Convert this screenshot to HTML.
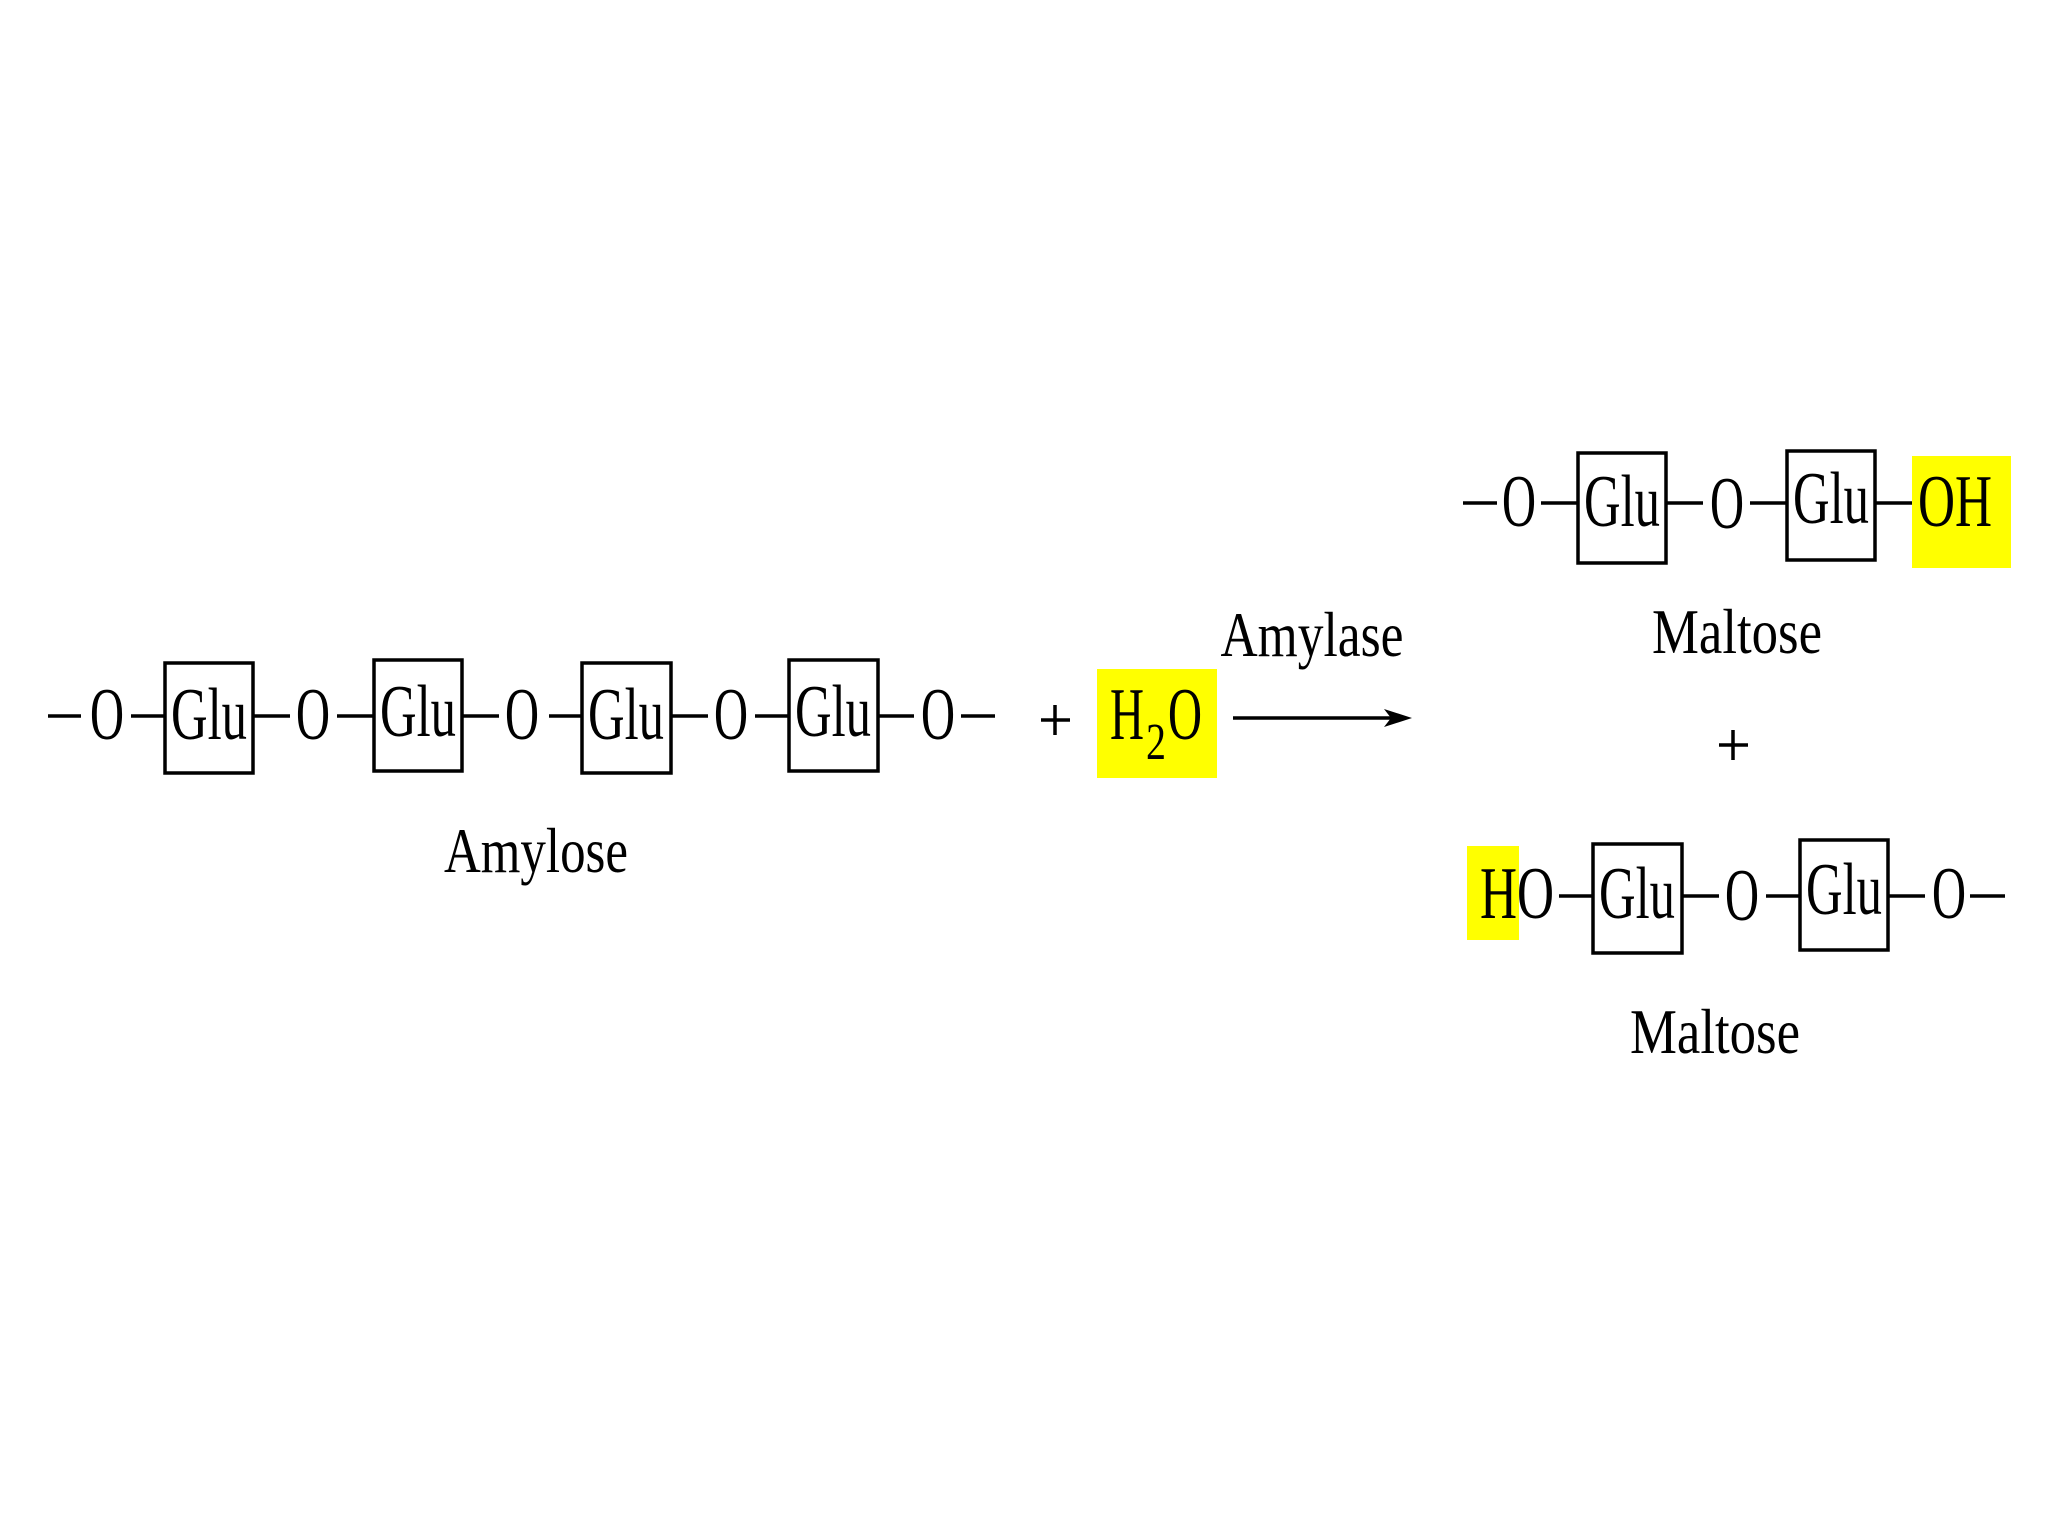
<!DOCTYPE html>
<html><head><meta charset="utf-8"><style>html,body{margin:0;padding:0;background:#fff}svg{display:block}</style></head><body>
<svg width="2048" height="1536" viewBox="0 0 2048 1536" xmlns="http://www.w3.org/2000/svg" font-family="Liberation Serif, serif" fill="#000">
<rect width="2048" height="1536" fill="#fff"/>
<g stroke="#000" stroke-width="3.5" fill="none">
<!-- amylose dashes -->
<line x1="48" y1="716" x2="81" y2="716"/>
<line x1="131" y1="716" x2="165" y2="716"/>
<line x1="253" y1="716" x2="290" y2="716"/>
<line x1="337" y1="716" x2="374" y2="716"/>
<line x1="462" y1="716" x2="499" y2="716"/>
<line x1="549" y1="716" x2="582" y2="716"/>
<line x1="671" y1="716" x2="708" y2="716"/>
<line x1="755" y1="716" x2="789" y2="716"/>
<line x1="878" y1="716" x2="914" y2="716"/>
<line x1="961" y1="716" x2="995" y2="716"/>
<rect x="165" y="663" width="88" height="110"/>
<rect x="374" y="660" width="88" height="111"/>
<rect x="582" y="663" width="89" height="110"/>
<rect x="789" y="660" width="89" height="111"/>
<line x1="1233" y1="718" x2="1400" y2="718"/>
<!-- top maltose -->
<line x1="1463" y1="503" x2="1497" y2="503"/>
<line x1="1541" y1="503" x2="1578" y2="503"/>
<line x1="1666" y1="503" x2="1703" y2="503"/>
<line x1="1750" y1="503" x2="1787" y2="503"/>
<line x1="1875" y1="503" x2="1912" y2="503"/>
<rect x="1578" y="453" width="88" height="110"/>
<rect x="1787" y="451" width="88" height="109"/>
<!-- bottom maltose -->
<line x1="1559" y1="896" x2="1593" y2="896"/>
<line x1="1682" y1="896" x2="1719" y2="896"/>
<line x1="1766" y1="896" x2="1800" y2="896"/>
<line x1="1888" y1="896" x2="1925" y2="896"/>
<line x1="1970" y1="896" x2="2005" y2="896"/>
<rect x="1593" y="844" width="89" height="109"/>
<rect x="1800" y="840" width="88" height="110"/>
<!-- plus signs -->
<line x1="1041" y1="720" x2="1070" y2="720"/><line x1="1055" y1="705" x2="1055" y2="735"/>
<line x1="1719" y1="745" x2="1748" y2="745"/><line x1="1733" y1="730" x2="1733" y2="760"/>
</g>
<polygon points="1384,709 1412,718 1384,727 1391,718" fill="#000"/>
<rect x="1097" y="669" width="120" height="109" fill="#ffff00"/>
<rect x="1912" y="456" width="99" height="112" fill="#ffff00"/>
<rect x="1467" y="846" width="52" height="94" fill="#ffff00"/>
<g font-size="74" text-anchor="middle">
<text x="107" y="739" textLength="34" lengthAdjust="spacingAndGlyphs">O</text>
<text x="209" y="739" textLength="76" lengthAdjust="spacingAndGlyphs">Glu</text>
<text x="313" y="739" textLength="34" lengthAdjust="spacingAndGlyphs">O</text>
<text x="418" y="736" textLength="76" lengthAdjust="spacingAndGlyphs">Glu</text>
<text x="522" y="739" textLength="34" lengthAdjust="spacingAndGlyphs">O</text>
<text x="626" y="739" textLength="76" lengthAdjust="spacingAndGlyphs">Glu</text>
<text x="731" y="739" textLength="34" lengthAdjust="spacingAndGlyphs">O</text>
<text x="833" y="736" textLength="76" lengthAdjust="spacingAndGlyphs">Glu</text>
<text x="938" y="739" textLength="34" lengthAdjust="spacingAndGlyphs">O</text>
<text x="1127" y="739" textLength="34" lengthAdjust="spacingAndGlyphs">H</text>
<text x="1185" y="739" textLength="34" lengthAdjust="spacingAndGlyphs">O</text>
<text x="1519" y="526" textLength="34" lengthAdjust="spacingAndGlyphs">O</text>
<text x="1622" y="526" textLength="76" lengthAdjust="spacingAndGlyphs">Glu</text>
<text x="1727" y="528" textLength="34" lengthAdjust="spacingAndGlyphs">O</text>
<text x="1831" y="523" textLength="76" lengthAdjust="spacingAndGlyphs">Glu</text>
<text x="1955" y="526" textLength="74" lengthAdjust="spacingAndGlyphs">OH</text>
<text x="1517" y="918" textLength="74" lengthAdjust="spacingAndGlyphs">HO</text>
<text x="1637" y="918" textLength="76" lengthAdjust="spacingAndGlyphs">Glu</text>
<text x="1742" y="920" textLength="34" lengthAdjust="spacingAndGlyphs">O</text>
<text x="1844" y="914" textLength="76" lengthAdjust="spacingAndGlyphs">Glu</text>
<text x="1949" y="918" textLength="34" lengthAdjust="spacingAndGlyphs">O</text>
</g>
<text x="1156" y="759" font-size="52" text-anchor="middle" textLength="20" lengthAdjust="spacingAndGlyphs">2</text>
<g font-size="64" text-anchor="middle">
<text x="1312" y="656" textLength="183" lengthAdjust="spacingAndGlyphs">Amylase</text>
<text x="536" y="872" textLength="184" lengthAdjust="spacingAndGlyphs">Amylose</text>
<text x="1737" y="653" textLength="170" lengthAdjust="spacingAndGlyphs">Maltose</text>
<text x="1715" y="1053" textLength="170" lengthAdjust="spacingAndGlyphs">Maltose</text>
</g>
</svg>
</body></html>
